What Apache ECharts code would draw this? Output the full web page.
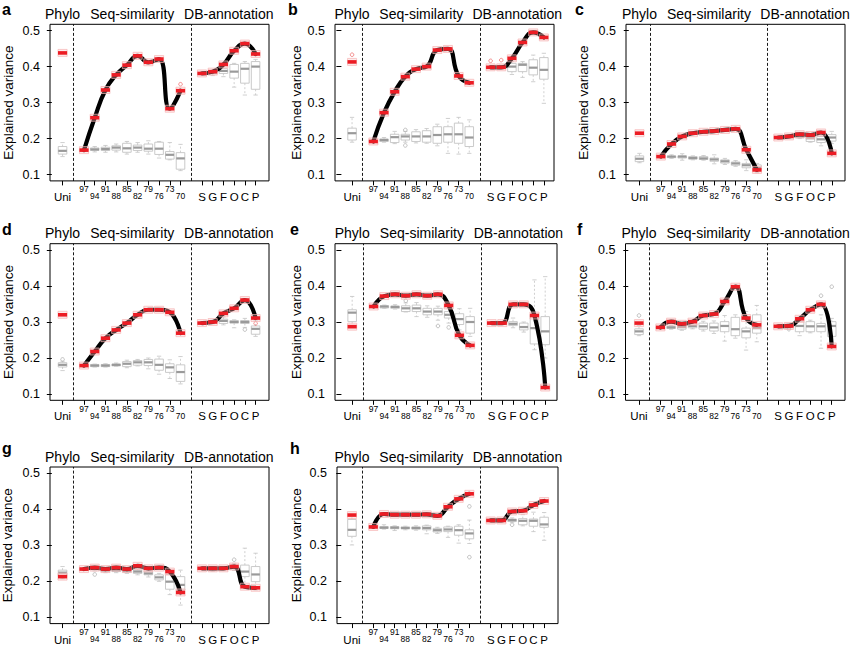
<!DOCTYPE html>
<html><head><meta charset="utf-8">
<script src="https://cdn.jsdelivr.net/npm/echarts@6/dist/echarts.min.js"></script>
<style>html,body{margin:0;padding:0;background:#fff}#c{width:850px;height:649px}</style>
</head><body><div id="c"></div>
<script>
// ---------- labels ----------
const uniLabel = 'Uni';
const seqLabels = ['97','94','91','88','85','82','79','76','73','70'];
const dbLabels = ['S','G','F','O','C','P'];
const sectionTitles = ['Phylo','Seq-similarity','DB-annotation'];
const yTicks = [0.1,0.2,0.3,0.4,0.5];
const panelLetters = ['a','b','c','d','e','f','g','h'];
const yName = 'Explained variance';

// ---------- panel a ----------
const aUniRed = [0.438];
const aUniBox = [0.150,0.157,0.166,0.178,0.189];
const aSeqRed = [0.168,0.258,0.335,0.377,0.404,0.430,0.412,0.421,0.283,0.333];
const aSeqBox = [[0.165,0.166,0.168,0.170,0.172],[0.163,0.167,0.170,0.174,0.178],[0.162,0.167,0.171,0.176,0.181],[0.163,0.168,0.175,0.180,0.185],[0.157,0.162,0.173,0.187,0.192],[0.162,0.167,0.175,0.182,0.189],[0.157,0.165,0.172,0.185,0.194],[0.146,0.156,0.172,0.190,0.192],[0.141,0.143,0.155,0.164,0.189],[0.111,0.115,0.145,0.161,0.184]];
const aDbRed = [0.381,0.386,0.406,0.444,0.464,0.435];
const aDbBox = [[0.378,0.379,0.380,0.382,0.383],[0.375,0.380,0.383,0.386,0.389],[0.372,0.381,0.388,0.395,0.409],[0.343,0.368,0.386,0.406,0.409],[0.321,0.354,0.394,0.409,0.414],[0.321,0.337,0.400,0.414,0.420]];
const aRedOut = [['70',0.351]];
const aGrayOut = [];

// ---------- panel b ----------
const bUniRed = [0.413];
const bUniBox = [0.190,0.196,0.215,0.229,0.259];
const bSeqRed = [0.192,0.272,0.330,0.372,0.393,0.400,0.446,0.449,0.374,0.355];
const bSeqBox = [[0.189,0.191,0.193,0.195,0.197],[0.190,0.192,0.196,0.199,0.203],[0.186,0.189,0.204,0.212,0.220],[0.190,0.196,0.206,0.212,0.220],[0.188,0.192,0.206,0.219,0.225],[0.187,0.190,0.206,0.222,0.228],[0.180,0.187,0.210,0.233,0.240],[0.159,0.190,0.212,0.233,0.256],[0.157,0.187,0.212,0.243,0.259],[0.159,0.178,0.203,0.233,0.252]];
const bDbRed = [0.398,0.398,0.423,0.467,0.495,0.481];
const bDbBox = [[0.395,0.396,0.398,0.400,0.402],[0.394,0.396,0.399,0.402,0.404],[0.378,0.386,0.400,0.409,0.414],[0.370,0.386,0.405,0.409,0.414],[0.358,0.377,0.397,0.419,0.432],[0.298,0.365,0.391,0.425,0.437]];
const bRedOut = [['Uni',0.433],['S',0.416],['G',0.418]];
const bGrayOut = [['88',0.224],['88',0.181]];

// ---------- panel c ----------
const cUniRed = [0.215];
const cUniBox = [0.133,0.136,0.144,0.152,0.159];
const cSeqRed = [0.150,0.185,0.206,0.215,0.219,0.221,0.224,0.227,0.169,0.113];
const cSeqBox = [[0.147,0.148,0.150,0.152,0.153],[0.145,0.147,0.150,0.151,0.155],[0.140,0.146,0.150,0.152,0.158],[0.141,0.143,0.146,0.150,0.152],[0.140,0.142,0.145,0.150,0.153],[0.130,0.137,0.142,0.146,0.155],[0.128,0.132,0.137,0.141,0.145],[0.123,0.126,0.131,0.135,0.139],[0.111,0.119,0.126,0.131,0.141],[0.105,0.111,0.118,0.127,0.131]];
const cDbRed = [0.203,0.206,0.212,0.210,0.217,0.159];
const cDbBox = [[0.200,0.201,0.203,0.205,0.206],[0.202,0.204,0.206,0.208,0.210],[0.200,0.202,0.206,0.211,0.214],[0.190,0.192,0.201,0.207,0.212],[0.180,0.189,0.198,0.206,0.215],[0.186,0.193,0.203,0.211,0.220]];
const cRedOut = [];
const cGrayOut = [];

// ---------- panel d ----------
const dUniRed = [0.320];
const dUniBox = [0.165,0.175,0.181,0.187,0.191];
const dSeqRed = [0.179,0.218,0.255,0.278,0.297,0.320,0.334,0.334,0.327,0.269];
const dSeqBox = [[0.175,0.177,0.178,0.180,0.181],[0.175,0.176,0.179,0.182,0.183],[0.175,0.176,0.179,0.182,0.184],[0.177,0.178,0.181,0.183,0.186],[0.173,0.176,0.184,0.190,0.194],[0.178,0.180,0.188,0.193,0.196],[0.170,0.179,0.188,0.196,0.200],[0.155,0.166,0.181,0.197,0.205],[0.143,0.160,0.174,0.184,0.195],[0.128,0.135,0.161,0.181,0.204]];
const dDbRed = [0.297,0.300,0.324,0.338,0.361,0.311];
const dDbBox = [[0.293,0.295,0.297,0.299,0.301],[0.295,0.297,0.300,0.302,0.305],[0.292,0.296,0.303,0.308,0.314],[0.284,0.297,0.300,0.304,0.306],[0.285,0.296,0.300,0.304,0.310],[0.260,0.266,0.281,0.289,0.303]];
const dRedOut = [['P',0.296]];
const dGrayOut = [['Uni',0.196],['C',0.279]];

// ---------- panel e ----------
const eUniRed = [0.287];
const eUniBox = [0.288,0.301,0.326,0.334,0.371];
const eSeqRed = [0.343,0.372,0.377,0.373,0.377,0.373,0.377,0.346,0.263,0.235];
const eSeqBox = [[0.340,0.341,0.343,0.345,0.346],[0.338,0.339,0.343,0.345,0.347],[0.336,0.338,0.342,0.344,0.348],[0.328,0.329,0.338,0.345,0.353],[0.315,0.329,0.338,0.347,0.354],[0.313,0.320,0.329,0.338,0.345],[0.305,0.320,0.329,0.338,0.344],[0.297,0.311,0.320,0.329,0.337],[0.278,0.293,0.308,0.323,0.337],[0.260,0.269,0.300,0.315,0.338]];
const eDbRed = [0.297,0.297,0.349,0.349,0.318,0.118];
const eDbBox = [[0.294,0.295,0.297,0.299,0.300],[0.294,0.295,0.297,0.299,0.300],[0.284,0.290,0.295,0.301,0.311],[0.272,0.278,0.286,0.297,0.300],[0.223,0.239,0.283,0.320,0.417],[0.200,0.237,0.274,0.315,0.426]];
const eRedOut = [];
const eGrayOut = [['79',0.289],['76',0.285],['88',0.359]];

// ---------- panel f ----------
const fUniRed = [0.297];
const fUniBox = [0.262,0.265,0.274,0.281,0.290];
const fSeqRed = [0.285,0.301,0.295,0.301,0.318,0.322,0.357,0.398,0.311,0.292];
const fSeqBox = [[0.281,0.283,0.284,0.286,0.288],[0.280,0.282,0.285,0.288,0.290],[0.277,0.280,0.286,0.292,0.296],[0.281,0.284,0.289,0.295,0.298],[0.275,0.280,0.288,0.297,0.302],[0.268,0.275,0.285,0.297,0.303],[0.247,0.273,0.289,0.301,0.318],[0.255,0.262,0.280,0.313,0.320],[0.222,0.256,0.274,0.283,0.329],[0.245,0.269,0.283,0.320,0.346]];
const fDbRed = [0.288,0.289,0.309,0.334,0.349,0.232];
const fDbBox = [[0.284,0.286,0.288,0.290,0.292],[0.280,0.284,0.288,0.291,0.294],[0.262,0.273,0.289,0.301,0.309],[0.270,0.273,0.288,0.301,0.305],[0.227,0.273,0.288,0.296,0.320],[0.242,0.260,0.289,0.301,0.310]];
const fRedOut = [];
const fGrayOut = [['Uni',0.318],['C',0.373],['P',0.398],['G',0.280]];

// ---------- panel g ----------
const gUniRed = [0.213];
const gUniBox = [0.207,0.213,0.224,0.231,0.241];
const gSeqRed = [0.234,0.238,0.234,0.238,0.234,0.243,0.236,0.238,0.227,0.169];
const gSeqBox = [[0.231,0.232,0.234,0.236,0.237],[0.229,0.232,0.235,0.238,0.240],[0.224,0.227,0.231,0.236,0.239],[0.224,0.227,0.231,0.236,0.240],[0.222,0.225,0.229,0.234,0.237],[0.218,0.222,0.227,0.231,0.235],[0.212,0.218,0.222,0.228,0.232],[0.200,0.204,0.211,0.218,0.222],[0.163,0.178,0.199,0.219,0.227],[0.134,0.176,0.190,0.213,0.231]];
const gDbRed = [0.236,0.236,0.236,0.241,0.185,0.182];
const gDbBox = [[0.233,0.234,0.236,0.238,0.239],[0.228,0.232,0.235,0.238,0.240],[0.231,0.233,0.236,0.239,0.241],[0.230,0.235,0.238,0.245,0.250],[0.181,0.213,0.227,0.245,0.292],[0.176,0.199,0.219,0.241,0.278]];
const gRedOut = [];
const gGrayOut = [['94',0.219],['O',0.260]];

// ---------- panel h ----------
const hUniRed = [0.384];
const hUniBox = [0.301,0.325,0.343,0.372,0.384];
const hSeqRed = [0.351,0.387,0.385,0.385,0.385,0.386,0.382,0.407,0.429,0.443];
const hSeqBox = [[0.348,0.349,0.351,0.353,0.354],[0.345,0.347,0.349,0.352,0.357],[0.341,0.346,0.349,0.352,0.354],[0.343,0.346,0.348,0.351,0.353],[0.342,0.345,0.348,0.351,0.354],[0.332,0.343,0.348,0.354,0.356],[0.333,0.337,0.342,0.347,0.350],[0.322,0.338,0.344,0.351,0.353],[0.306,0.328,0.342,0.353,0.357],[0.305,0.318,0.333,0.343,0.370]];
const hDbRed = [0.369,0.369,0.394,0.396,0.412,0.423];
const hDbBox = [[0.366,0.367,0.369,0.371,0.372],[0.366,0.367,0.369,0.371,0.372],[0.364,0.366,0.370,0.373,0.376],[0.354,0.357,0.368,0.374,0.385],[0.338,0.353,0.368,0.373,0.392],[0.314,0.350,0.358,0.378,0.391]];
const hRedOut = [];
const hGrayOut = [['70',0.408],['70',0.267],['F',0.357]];

// ---------- assemble ----------
const panelData = [
  [aUniRed,aUniBox,aSeqRed,aSeqBox,aDbRed,aDbBox,aRedOut,aGrayOut],
  [bUniRed,bUniBox,bSeqRed,bSeqBox,bDbRed,bDbBox,bRedOut,bGrayOut],
  [cUniRed,cUniBox,cSeqRed,cSeqBox,cDbRed,cDbBox,cRedOut,cGrayOut],
  [dUniRed,dUniBox,dSeqRed,dSeqBox,dDbRed,dDbBox,dRedOut,dGrayOut],
  [eUniRed,eUniBox,eSeqRed,eSeqBox,eDbRed,eDbBox,eRedOut,eGrayOut],
  [fUniRed,fUniBox,fSeqRed,fSeqBox,fDbRed,fDbBox,fRedOut,fGrayOut],
  [gUniRed,gUniBox,gSeqRed,gSeqBox,gDbRed,gDbBox,gRedOut,gGrayOut],
  [hUniRed,hUniBox,hSeqRed,hSeqBox,hDbRed,hDbBox,hRedOut,hGrayOut]
];

// layout (pixels / axis extents)
const layout = [
  {left:50,  top:24.3, w:219, xmin:-0.17, xmax:20.25, gap:35, lx:2,   ly:1},
  {left:335, top:24.3, w:219, xmin:-0.6,  xmax:19.95, gap:32, lx:288, ly:1},
  {left:626, top:24.3, w:219, xmin:-0.26, xmax:20.24, gap:36, lx:575, ly:1},
  {left:50,  top:243.7,w:219, xmin:-0.17, xmax:20.25, gap:35, lx:2,   ly:221},
  {left:335, top:243.7,w:222, xmin:-0.6,  xmax:20.1,  gap:32, lx:290, ly:221},
  {left:625.5,top:243.7,w:219.5,xmin:-0.26,xmax:20.24,gap:36, lx:577, ly:221},
  {left:50,  top:467,  w:219, xmin:-0.17, xmax:20.25, gap:36, lx:2,   ly:440},
  {left:337, top:467,  w:221, xmin:-0.4,  xmax:20.3,  gap:34, lx:290, ly:440}
];
const YMIN = 0.0825, YMAX = 0.5175, GH = 156.6;

// axis positions of categories
const uniPos = 1;
const seqPos = seqLabels.map((_, i) => 3 + i);
const dbPos = dbLabels.map((_, i) => 14 + i);
const sepPos = [2, 13];
const titlePos = [1, 7.5, 16.5];
const tickPos = [uniPos, ...seqPos, ...dbPos];
function posOf(lbl) {
  if (lbl === uniLabel) return uniPos;
  const si = seqLabels.indexOf(lbl); if (si >= 0) return seqPos[si];
  return dbPos[dbLabels.indexOf(lbl)];
}
function xLabel(v) {
  const r = Math.round(v);
  if (r === uniPos) return '{big|' + uniLabel + '}';
  const si = seqPos.indexOf(r);
  if (si >= 0) return (si % 2 === 0 ? '{hi|' : '{lo|') + seqLabels[si] + '}';
  const di = dbPos.indexOf(r);
  if (di >= 0) return '{big|' + dbLabels[di] + '}';
  return '';
}

const FONT = '"Liberation Sans", Arial, Helvetica, sans-serif';
const RED = '#ec1c24';
const GRAY = '#c4c4c4';

function grayRender(params, api) {
  const x = api.value(0);
  const ys = [1,2,3,4,5].map(k => api.coord([x, api.value(k)])[1]);
  const cx = api.coord([x, api.value(3)])[0];
  const w = api.size([1, 0])[0] * 0.8;
  const dash = {stroke: GRAY, lineWidth: 0.8, lineDash: [2, 2]};
  const solid = {stroke: GRAY, lineWidth: 0.8};
  return {type: 'group', children: [
    {type: 'line', shape: {x1: cx, y1: ys[3], x2: cx, y2: ys[4]}, style: dash},
    {type: 'line', shape: {x1: cx, y1: ys[1], x2: cx, y2: ys[0]}, style: dash},
    {type: 'line', shape: {x1: cx - w/4, y1: ys[4], x2: cx + w/4, y2: ys[4]}, style: solid},
    {type: 'line', shape: {x1: cx - w/4, y1: ys[0], x2: cx + w/4, y2: ys[0]}, style: solid},
    {type: 'rect', shape: {x: cx - w/2, y: ys[3], width: w, height: Math.max(ys[1] - ys[3], 1)}, style: {fill: 'rgba(255,255,255,0.6)', stroke: GRAY, lineWidth: 0.9}},
    {type: 'line', shape: {x1: cx - w/2, y1: ys[2], x2: cx + w/2, y2: ys[2]}, style: {stroke: '#9a9a9a', lineWidth: 2.2}}
  ]};
}
function redRender(params, api) {
  const p = api.coord([api.value(0), api.value(1)]);
  const w = api.size([1, 0])[0] * 0.85;
  return {type: 'group', children: [
    {type: 'rect', shape: {x: p[0] - w/2, y: p[1] - 3.5, width: w, height: 7}, style: {fill: 'rgba(250,190,190,0.3)', stroke: '#f6b4b4', lineWidth: 0.7}},
    {type: 'line', shape: {x1: p[0] - w/2, y1: p[1], x2: p[0] + w/2, y2: p[1]}, style: {stroke: RED, lineWidth: 3.6}}
  ]};
}
function outRender(params, api) {
  const p = api.coord([api.value(0), api.value(1)]);
  return {type: 'circle', shape: {cx: p[0], cy: p[1], r: 1.8}, style: {fill: 'none', stroke: api.value(2) ? '#f07070' : '#b0b0b0', lineWidth: 0.8}};
}
function titleRender(params, api) {
  const p = api.coord([api.value(0), YMAX]);
  return {type: 'text', x: p[0], y: p[1] - 3.5, style: {text: sectionTitles[api.value(1)], font: '14px ' + FONT, fill: '#000', align: 'center', verticalAlign: 'bottom', textAlign: 'center', textVerticalAlign: 'bottom'}};
}

const grids = [], xAxes = [], yAxes = [], series = [], graphics = [];
panelData.forEach((pd, i) => {
  const [uniRed, uniBox, seqRed, seqBox, dbRed, dbBox, redOut, grayOut] = pd;
  const L = layout[i];
  grids.push({left: L.left, top: L.top, width: L.w, height: GH, show: true, borderColor: '#000', borderWidth: 1, backgroundColor: 'transparent', containLabel: false, outerBoundsMode: 'none'});
  xAxes.push({gridIndex: i, type: 'value', min: L.xmin, max: L.xmax,
    axisLine: {show: false, onZero: false}, splitLine: {show: false},
    axisTick: {show: true, customValues: tickPos, length: 4.5, lineStyle: {color: '#000', width: 1}},
    axisLabel: {show: true, customValues: tickPos, formatter: xLabel, margin: 7, color: '#000',
      rich: {
        big: {fontSize: 11.5, lineHeight: 13, padding: [5, 0, 0, 0], color: '#000', fontFamily: FONT},
        hi: {fontSize: 8.5, lineHeight: 10, padding: [0, 0, 7, 0], color: '#000', fontFamily: FONT},
        lo: {fontSize: 8.5, lineHeight: 10, padding: [7, 0, 0, 0], color: '#000', fontFamily: FONT}
      }}
  });
  yAxes.push({gridIndex: i, type: 'value', min: YMIN, max: YMAX,
    axisLine: {show: false}, splitLine: {show: false},
    axisTick: {show: true, customValues: yTicks, length: 5, lineStyle: {color: '#000', width: 1}},
    axisLabel: {show: true, customValues: yTicks, formatter: v => v.toFixed(1), fontSize: 12.5, margin: 10, color: '#000', fontFamily: FONT},
    name: yName, nameLocation: 'middle', nameGap: L.gap, nameRotate: 90,
    nameTextStyle: {fontSize: 13.5, color: '#000', fontFamily: FONT}
  });
  const grayData = [[uniPos, ...uniBox], ...seqBox.map((b, k) => [seqPos[k], ...b]), ...dbBox.map((b, k) => [dbPos[k], ...b])];
  const redData = [[uniPos, uniRed[0]], ...seqRed.map((v, k) => [seqPos[k], v]), ...dbRed.map((v, k) => [dbPos[k], v])];
  const outData = [...grayOut.map(o => [posOf(o[0]), o[1], 0]), ...redOut.map(o => [posOf(o[0]), o[1], 1])];
  series.push({type: 'custom', xAxisIndex: i, yAxisIndex: i, data: grayData, renderItem: grayRender, z: 2, silent: true});
  series.push({type: 'custom', xAxisIndex: i, yAxisIndex: i, data: outData, renderItem: outRender, z: 2, silent: true});
  series.push({type: 'line', xAxisIndex: i, yAxisIndex: i, data: seqRed.map((v, k) => [seqPos[k], v]), smooth: 0.5, showSymbol: false, symbol: 'none',
    lineStyle: {color: '#000', width: 4.2, cap: 'round'}, z: 3, silent: true,
    markLine: {silent: true, symbol: 'none', label: {show: false}, lineStyle: {type: [3, 2], color: '#000', width: 0.9}, data: sepPos.map(s => ({xAxis: s}))}
  });
  series.push({type: 'line', xAxisIndex: i, yAxisIndex: i, data: dbRed.map((v, k) => [dbPos[k], v]), smooth: 0.5, showSymbol: false, symbol: 'none',
    lineStyle: {color: '#000', width: 4.2, cap: 'round'}, z: 3, silent: true});
  series.push({type: 'custom', xAxisIndex: i, yAxisIndex: i, data: redData, renderItem: redRender, z: 4, silent: true});
  series.push({type: 'custom', xAxisIndex: i, yAxisIndex: i, data: titlePos.map((x, k) => [x, k]), renderItem: titleRender, z: 5, silent: true, clip: false});
  graphics.push({type: 'text', x: L.lx, y: L.ly, style: {text: panelLetters[i], font: 'bold 16px ' + FONT, fill: '#000', verticalAlign: 'top', textVerticalAlign: 'top'}});
});

const chart = echarts.init(document.getElementById('c'), null, {renderer: 'svg'});
chart.setOption({
  animation: false,
  backgroundColor: '#fff',
  textStyle: {fontFamily: FONT},
  grid: grids, xAxis: xAxes, yAxis: yAxes, series: series, graphic: graphics
});
</script>
</body></html>
